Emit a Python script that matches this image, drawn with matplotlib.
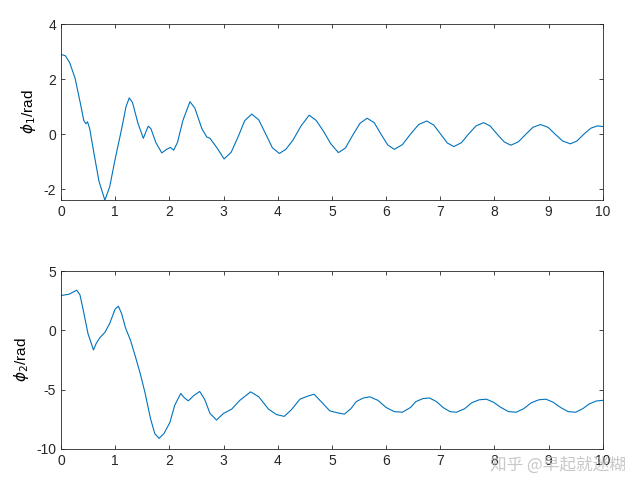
import matplotlib
matplotlib.use("Agg")
import matplotlib.pyplot as plt

t1 = [0, 0.08, 0.16, 0.26, 0.36, 0.42, 0.46, 0.49, 0.53, 0.6, 0.7, 0.81, 0.9, 1.0, 1.12, 1.2, 1.26, 1.32, 1.42, 1.52, 1.57, 1.61, 1.66, 1.75, 1.86, 1.95, 2.02, 2.08, 2.15, 2.25, 2.38, 2.47, 2.6, 2.69, 2.75, 2.88, 3.01,
      3.14, 3.27, 3.39, 3.52, 3.65, 3.78, 3.9, 4.03, 4.15, 4.28, 4.43, 4.58, 4.71, 4.84, 4.98, 5.12, 5.25, 5.38, 5.52, 5.65,
      5.78, 5.9, 6.03, 6.15, 6.3, 6.45, 6.6, 6.75, 6.88, 7.0, 7.13, 7.25, 7.39, 7.52, 7.66, 7.8, 7.92, 8.05, 8.18, 8.3,
      8.44, 8.58, 8.71, 8.85, 8.99, 9.12, 9.26, 9.4, 9.52, 9.65, 9.78, 9.9, 10.0]
phi1 = [2.9, 2.85, 2.6, 2.03, 1.1, 0.5, 0.38, 0.45, 0.2, -0.6, -1.7, -2.4, -1.9, -0.9, 0.2, 1.0, 1.32, 1.15, 0.4, -0.15, 0.1, 0.29, 0.2, -0.3, -0.68, -0.55, -0.48, -0.58, -0.3, 0.5, 1.18, 0.95, 0.2, -0.1, -0.15, -0.5, -0.9,
        -0.66, -0.09, 0.49, 0.73, 0.52, 0.0, -0.49, -0.7, -0.55, -0.22, 0.3, 0.69, 0.5, 0.12, -0.35, -0.67, -0.5, -0.05, 0.4, 0.58,
        0.42, 0.02, -0.39, -0.55, -0.38, 0.0, 0.35, 0.48, 0.33, 0.02, -0.32, -0.45, -0.31, 0.0, 0.3, 0.42, 0.3, 0.0, -0.28, -0.4,
        -0.28, 0.0, 0.25, 0.35, 0.25, 0.0, -0.25, -0.35, -0.25, 0.0, 0.22, 0.3, 0.28]

t2 = [0, 0.15, 0.29, 0.35, 0.42, 0.5, 0.6, 0.65, 0.72, 0.81, 0.9, 1.0, 1.06, 1.12, 1.19, 1.28, 1.37, 1.46, 1.55, 1.65, 1.73, 1.81, 1.9, 2.01, 2.1, 2.21, 2.28, 2.35, 2.45, 2.56, 2.65, 2.75, 2.87, 3.0, 3.15, 3.3, 3.5, 3.65, 3.83, 3.98, 4.12, 4.25, 4.41, 4.55, 4.67, 4.8, 4.96, 5.1, 5.23, 5.35, 5.45, 5.58, 5.7, 5.85, 6.0, 6.15, 6.3, 6.45, 6.55, 6.68, 6.8, 6.93, 7.05, 7.18, 7.3, 7.45, 7.58, 7.72, 7.85, 7.98, 8.12, 8.26, 8.4, 8.54, 8.68, 8.82, 8.95, 9.08, 9.22, 9.36, 9.5, 9.63, 9.75, 9.88, 10.0]
phi2 = [2.94, 3.05, 3.39, 3.0, 1.5, -0.3, -1.65, -1.1, -0.6, -0.17, 0.6, 1.8, 2.04, 1.4, 0.22, -0.8, -2.16, -3.6, -5.24, -7.4, -8.7, -9.1, -8.7, -7.76, -6.3, -5.32, -5.7, -5.94, -5.5, -5.15, -5.8, -7.0, -7.56, -7.0, -6.64, -5.9, -5.18, -5.6, -6.64, -7.1, -7.25, -6.7, -5.8, -5.55, -5.38, -6.0, -6.78, -6.95, -7.06, -6.6, -6.0, -5.7, -5.6, -5.9, -6.5, -6.85, -6.9, -6.5, -6.0, -5.75, -5.7, -6.0, -6.5, -6.85, -6.9, -6.6, -6.1, -5.85, -5.8, -6.05, -6.5, -6.85, -6.9, -6.6, -6.1, -5.85, -5.8, -6.05, -6.5, -6.85, -6.9, -6.6, -6.2, -5.95, -5.9]

plt.rcParams['font.family'] = ['Liberation Sans', 'DejaVu Sans']
plt.rcParams['axes.unicode_minus'] = False
fig = plt.figure(figsize=(6.42, 4.92), dpi=100)
c = '#0072BD'

def style(ax):
    ax.tick_params(direction='in', top=True, right=True, labelsize=10, length=3, width=0.6, colors='#262626')
    for s in ax.spines.values():
        s.set_linewidth(0.6); s.set_color('#262626')

ax1 = fig.add_axes([0.095, 0.593, 0.844, 0.358])
ax1.plot(t1, phi1, color=c, lw=0.8)
ax1.set_xlim(0, 10); ax1.set_ylim(-2.4, 4)
ax1.set_xticks(range(0, 11)); ax1.set_yticks([-2, 0, 2, 4])
ax1.set_ylabel(r'$\phi_1$/rad', fontsize=11)
style(ax1)

ax2 = fig.add_axes([0.095, 0.0874, 0.844, 0.3616])
ax2.plot(t2, phi2, color=c, lw=0.8)
ax2.set_xlim(0, 10); ax2.set_ylim(-10, 5)
ax2.set_xticks(range(0, 11)); ax2.set_yticks([-10, -5, 0, 5])
ax2.set_ylabel(r'$\phi_2$/rad', fontsize=11)
style(ax2)

fig.text(0.975, 0.055, '知乎 @早起就迷糊', ha='right', va='center', fontsize=12,
         color='#bbbbbb', alpha=0.8, family=['Noto Sans CJK SC', 'DejaVu Sans'])
fig.savefig('out.png', dpi=100)
